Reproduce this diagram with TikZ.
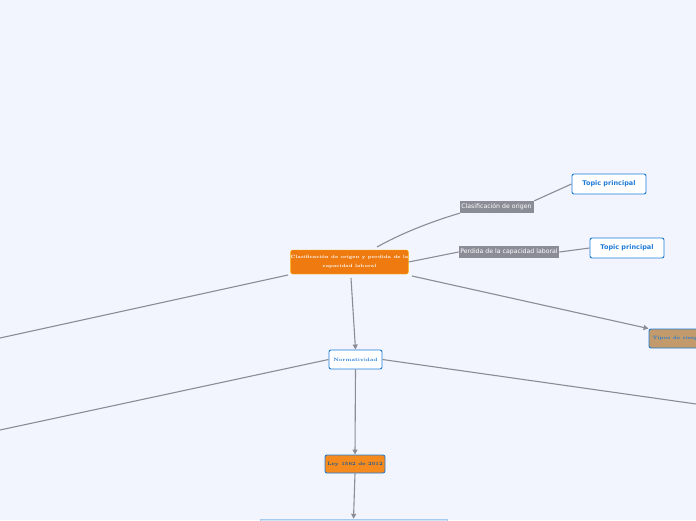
\documentclass[tikz,border=0pt]{standalone}
\usepackage{fontspec}
\newfontfamily\sansf{DejaVu Sans}
\usetikzlibrary{arrows.meta}
\definecolor{bg}{HTML}{F2F5FD}
\definecolor{ln}{HTML}{8A8D96}
\definecolor{bl}{HTML}{1D7BD8}
\definecolor{tan}{HTML}{C29A6B}
\definecolor{mainor}{HTML}{EE7A10}
\definecolor{leyor}{HTML}{F58A1F}
\tikzset{
 conn/.style={draw=ln,line width=1.1pt},
 arr/.style={conn,-{Triangle[length=5pt,width=5pt]}},
 topic/.style={draw=bl,fill=white,rounded corners=2pt,line width=0.9pt,text=bl,font=\sansf\bfseries\fontsize{6.5}{7}\selectfont,minimum width=74pt,minimum height=20pt,inner sep=0pt},
 lab/.style={fill=ln,text=white,font=\sansf\fontsize{6.2}{7}\selectfont,inner sep=1.5pt,minimum height=12pt},
 serifbox/.style={draw=bl,rounded corners=2pt,line width=0.9pt,font=\bfseries\fontsize{4.8}{5}\selectfont,inner sep=0pt,align=center}
}
\begin{document}
\begin{tikzpicture}[x=1pt,y=-1pt]
\fill[bg] (0,0) rectangle (696,520);
\useasboundingbox (0,0) rectangle (696,520);
\clip (0,0) rectangle (696,520);
\node[fill=mainor,draw=orange!60!yellow,rounded corners=2pt,text=white,font=\bfseries\fontsize{4.6}{9}\selectfont,align=center,minimum width=117pt,minimum height=24pt,inner sep=0pt] (main) at (349.5,262) {Clasificación de origen y perdida de la\\capacidad laboral};
\node[topic] (t1) at (609,184) {Topic principal};
\node[topic] (t2) at (627,248) {Topic principal};
\node[lab] (l1) at (497,207) {Clasificación de origen\,};
\node[lab] (l2) at (509,252) {Perdida de la capacidad laboral};
\node[serifbox,fill=tan,text=bl,minimum width=56pt,minimum height=19pt] (tip) at (677,338.5) {Tipos de riesgo};
\node[serifbox,fill=white,text=bl,minimum width=53pt,minimum height=19pt] (nor) at (355.5,359.5) {Normatividad};
\node[serifbox,fill=leyor,text=bl!70!black,minimum width=60pt,minimum height=18pt] (ley) at (355,464) {Ley 1562 de 2012};
\node[draw=bl!40,fill=bl!20,minimum width=187pt,minimum height=20pt,inner sep=0pt] (bot) at (353.5,529) {};
\coordinate (o1) at (0,338);
\coordinate (o2) at (0,430);
\coordinate (o3) at (696,404);
\draw[conn] (377,247) .. controls (400,234) and (430,222) .. (l1.south west);
\draw[conn] (l1.north east) -- (t1.west);
\draw[conn] (main.east) -- (l2.west);
\draw[conn] (l2.east) -- (t2.west);
\draw[conn] (288,275) -- (o1);
\draw[arr] (412,276) -- (tip.north west);
\draw[arr] (351,278) -- (nor.north);
\draw[conn] (nor.west) -- (o2);
\draw[conn] (nor.east) -- (o3);
\draw[arr] (nor.south) -- (ley.north);
\draw[arr] (ley.south) -- (bot.north);
\end{tikzpicture}
\end{document}
